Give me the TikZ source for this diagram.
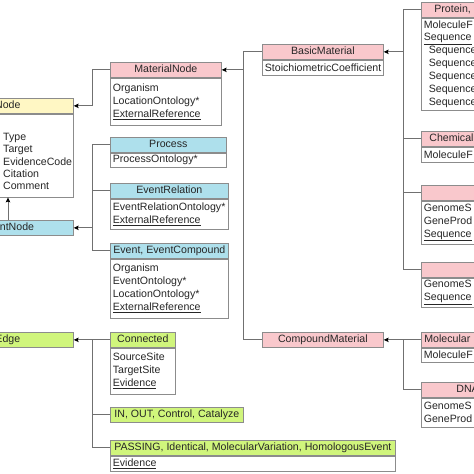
\documentclass[tikz,border=0pt]{standalone}
\usepackage{fontspec}
\setmainfont{Liberation Sans}
\usetikzlibrary{arrows.meta}
\definecolor{hyellow}{HTML}{FFF7C4}
\definecolor{hpink}{HTML}{F9C8CC}
\definecolor{hblue}{HTML}{AEE0EC}
\definecolor{hgreen}{HTML}{D0F57C}
\definecolor{boxgray}{HTML}{8C8C8C}
\definecolor{linegray}{HTML}{707070}
\newcommand{\umlfont}{\fontsize{10.6}{12.9}\selectfont}
\newcommand{\nodelistfont}{\fontsize{10.6}{12.3}\selectfont}
\begin{document}
\begin{tikzpicture}[x=1pt,y=-1pt,
  hdr/.style={draw=boxgray, line width=0.7pt, anchor=north west, minimum height=15pt,
    inner xsep=3pt, inner ysep=0pt, text height=7.6pt, text depth=2.2pt,
    font=\umlfont, text=black!85},
  rhdr/.style={text width=94pt, align=left},
  bdy/.style={draw=boxgray, line width=0.7pt, anchor=north west, fill=white,
    inner xsep=2.5pt, inner ysep=0pt, align=left, font=\umlfont, text=black!85},
  conn/.style={draw=linegray, line width=0.9pt},
  arr/.style={-{Stealth[length=5pt,width=4.5pt,inset=1pt,color=black]}}]
\useasboundingbox (0,0) rectangle (474,474);
\fill[white] (0,0) rectangle (474,474);
\clip (0,0) rectangle (474,474);

% ---------- left column
\node[hdr, fill=hyellow, minimum width=131pt] (nodeH) at (-58,98) {Node};
\node[bdy, minimum width=131pt, minimum height=83pt] (nodeB) at (nodeH.south west) {};
\node[anchor=north west, inner sep=0pt, align=left, font=\nodelistfont, text=black!85] (nodeT) at (3,133)
  {Type\\Target\\EvidenceCode\\Citation\\Comment};
\node[hdr, fill=hblue, minimum width=131pt] (enH) at (-58,220) {EventNode};
\node[hdr, fill=hgreen, minimum width=131pt] (edgeH) at (-58,332) {Edge};
\coordinate (upx) at (8,0);
\draw[conn, arr] (enH.north -| upx) -- (nodeB.south -| upx);

% ---------- middle column
\node[hdr, fill=hpink, minimum width=111pt] (matH) at (110,62) {MaterialNode};
\node[bdy, text width=106pt, minimum height=47pt] (matB) at (matH.south west)
  {Organism\\LocationOntology*\\\underline{ExternalReference}};
\node[hdr, fill=hblue, minimum width=116pt] (procH) at (110,137) {Process};
\node[bdy, text width=111pt, minimum height=14pt] (procB) at (procH.south west) {ProcessOntology*};
\node[hdr, fill=hblue, minimum width=118pt] (erH) at (110,183) {EventRelation};
\node[bdy, text width=113pt, minimum height=30pt] (erB) at (erH.south west)
  {EventRelationOntology*\\\underline{ExternalReference}};
\node[hdr, fill=hblue, minimum width=118pt] (evH) at (110,243) {Event, EventCompound};
\node[bdy, text width=113pt, minimum height=59pt] (evB) at (evH.south west)
  {Organism\\EventOntology*\\LocationOntology*\\\underline{ExternalReference}};
\node[hdr, fill=hgreen, minimum width=65pt] (conH) at (110,332) {Connected};
\node[bdy, text width=60pt, minimum height=46pt] (conB) at (conH.south west)
  {SourceSite\\TargetSite\\\underline{Evidence}};
\node[hdr, fill=hgreen, minimum width=133pt] (inH) at (110,407) {IN, OUT, Control, Catalyze};
\node[hdr, fill=hgreen, minimum width=285pt] (pasH) at (110,440)
  {PASSING, Identical, MolecularVariation, HomologousEvent};
\node[bdy, text width=280pt, minimum height=15pt] (pasB) at (pasH.south west) {\underline{Evidence}};

\coordinate (busA) at (92,0);
\draw[conn, arr] (matH.west) -- (matH.west -| busA) |- (nodeH.east);
\draw[conn] (procH.west) -- (procH.west -| busA) -- (evH.west -| busA) -- (evH.west);
\draw[conn] (erH.west -| busA) -- (erH.west);
\draw[conn, arr] (enH.east -| busA) -- (enH.east);
\draw[conn] (conH.west) -- (conH.west -| busA) -- (pasH.west -| busA) -- (pasH.west);
\draw[conn] (inH.west -| busA) -- (inH.west);
\draw[conn, arr] (conH.west -| busA) -- (edgeH.east);

% ---------- materials
\node[hdr, fill=hpink, minimum width=121pt] (basH) at (262,44) {BasicMaterial};
\node[bdy, text width=116pt, minimum height=15pt] (basB) at (basH.south west) {StoichiometricCoefficient};
\node[hdr, fill=hpink, minimum width=121pt] (cmpH) at (262,332) {CompoundMaterial};

\coordinate (busB) at (243,0);
\draw[conn] (basH.west) -- (basH.west -| busB) -- (cmpH.west -| busB) -- (cmpH.west);
\draw[conn, arr] (matH.east -| busB) -- (matH.east);

% ---------- right column
\node[hdr, rhdr, fill=hpink] (proH) at (421,2) {\hspace*{10pt}Protein,};
\node[bdy, text width=95pt, minimum height=92pt] (proB) at (proH.south west)
  {MoleculeF\\\underline{Sequence}\\\hspace*{5pt}Sequence\\\hspace*{5pt}Sequence\\\hspace*{5pt}Sequence\\\hspace*{5pt}Sequence\\\hspace*{5pt}Sequence};
\node[hdr, rhdr, fill=hpink] (chemH) at (421,131) {\hspace*{5pt}Chemical};
\node[bdy, text width=95pt, minimum height=15pt] (chemB) at (chemH.south west) {MoleculeF};
\node[hdr, rhdr, fill=hpink] (b3H) at (421,185) {};
\node[bdy, text width=95pt, minimum height=43pt] (b3B) at (b3H.south west)
  {GenomeS\\GeneProd\\\underline{Sequence}};
\node[hdr, rhdr, fill=hpink] (b4H) at (421,262) {};
\node[bdy, text width=95pt, minimum height=29pt] (b4B) at (b4H.south west)
  {GenomeS\\\underline{Sequence}};
\node[hdr, rhdr, fill=hpink] (molH) at (421,332) {Molecular};
\node[bdy, text width=95pt, minimum height=14pt] (molB) at (molH.south west) {MoleculeF};
\node[hdr, rhdr, fill=hpink] (dnaH) at (421,382) {\hspace*{32pt}DNA};
\node[bdy, text width=95pt, minimum height=29pt] (dnaB) at (dnaH.south west) {GenomeS\\GeneProd};

\coordinate (busC) at (403,0);
\draw[conn] (proH.west) -- (proH.west -| busC) -- (b4H.west -| busC) -- (b4H.west);
\draw[conn] (chemH.west -| busC) -- (chemH.west);
\draw[conn] (b3H.west -| busC) -- (b3H.west);
\draw[conn, arr] (basH.east -| busC) -- (basH.east);
\draw[conn, arr] (molH.west) -- (cmpH.east);
\draw[conn] (molH.west -| busC) -- (dnaH.west -| busC) -- (dnaH.west);
\end{tikzpicture}
\end{document}
